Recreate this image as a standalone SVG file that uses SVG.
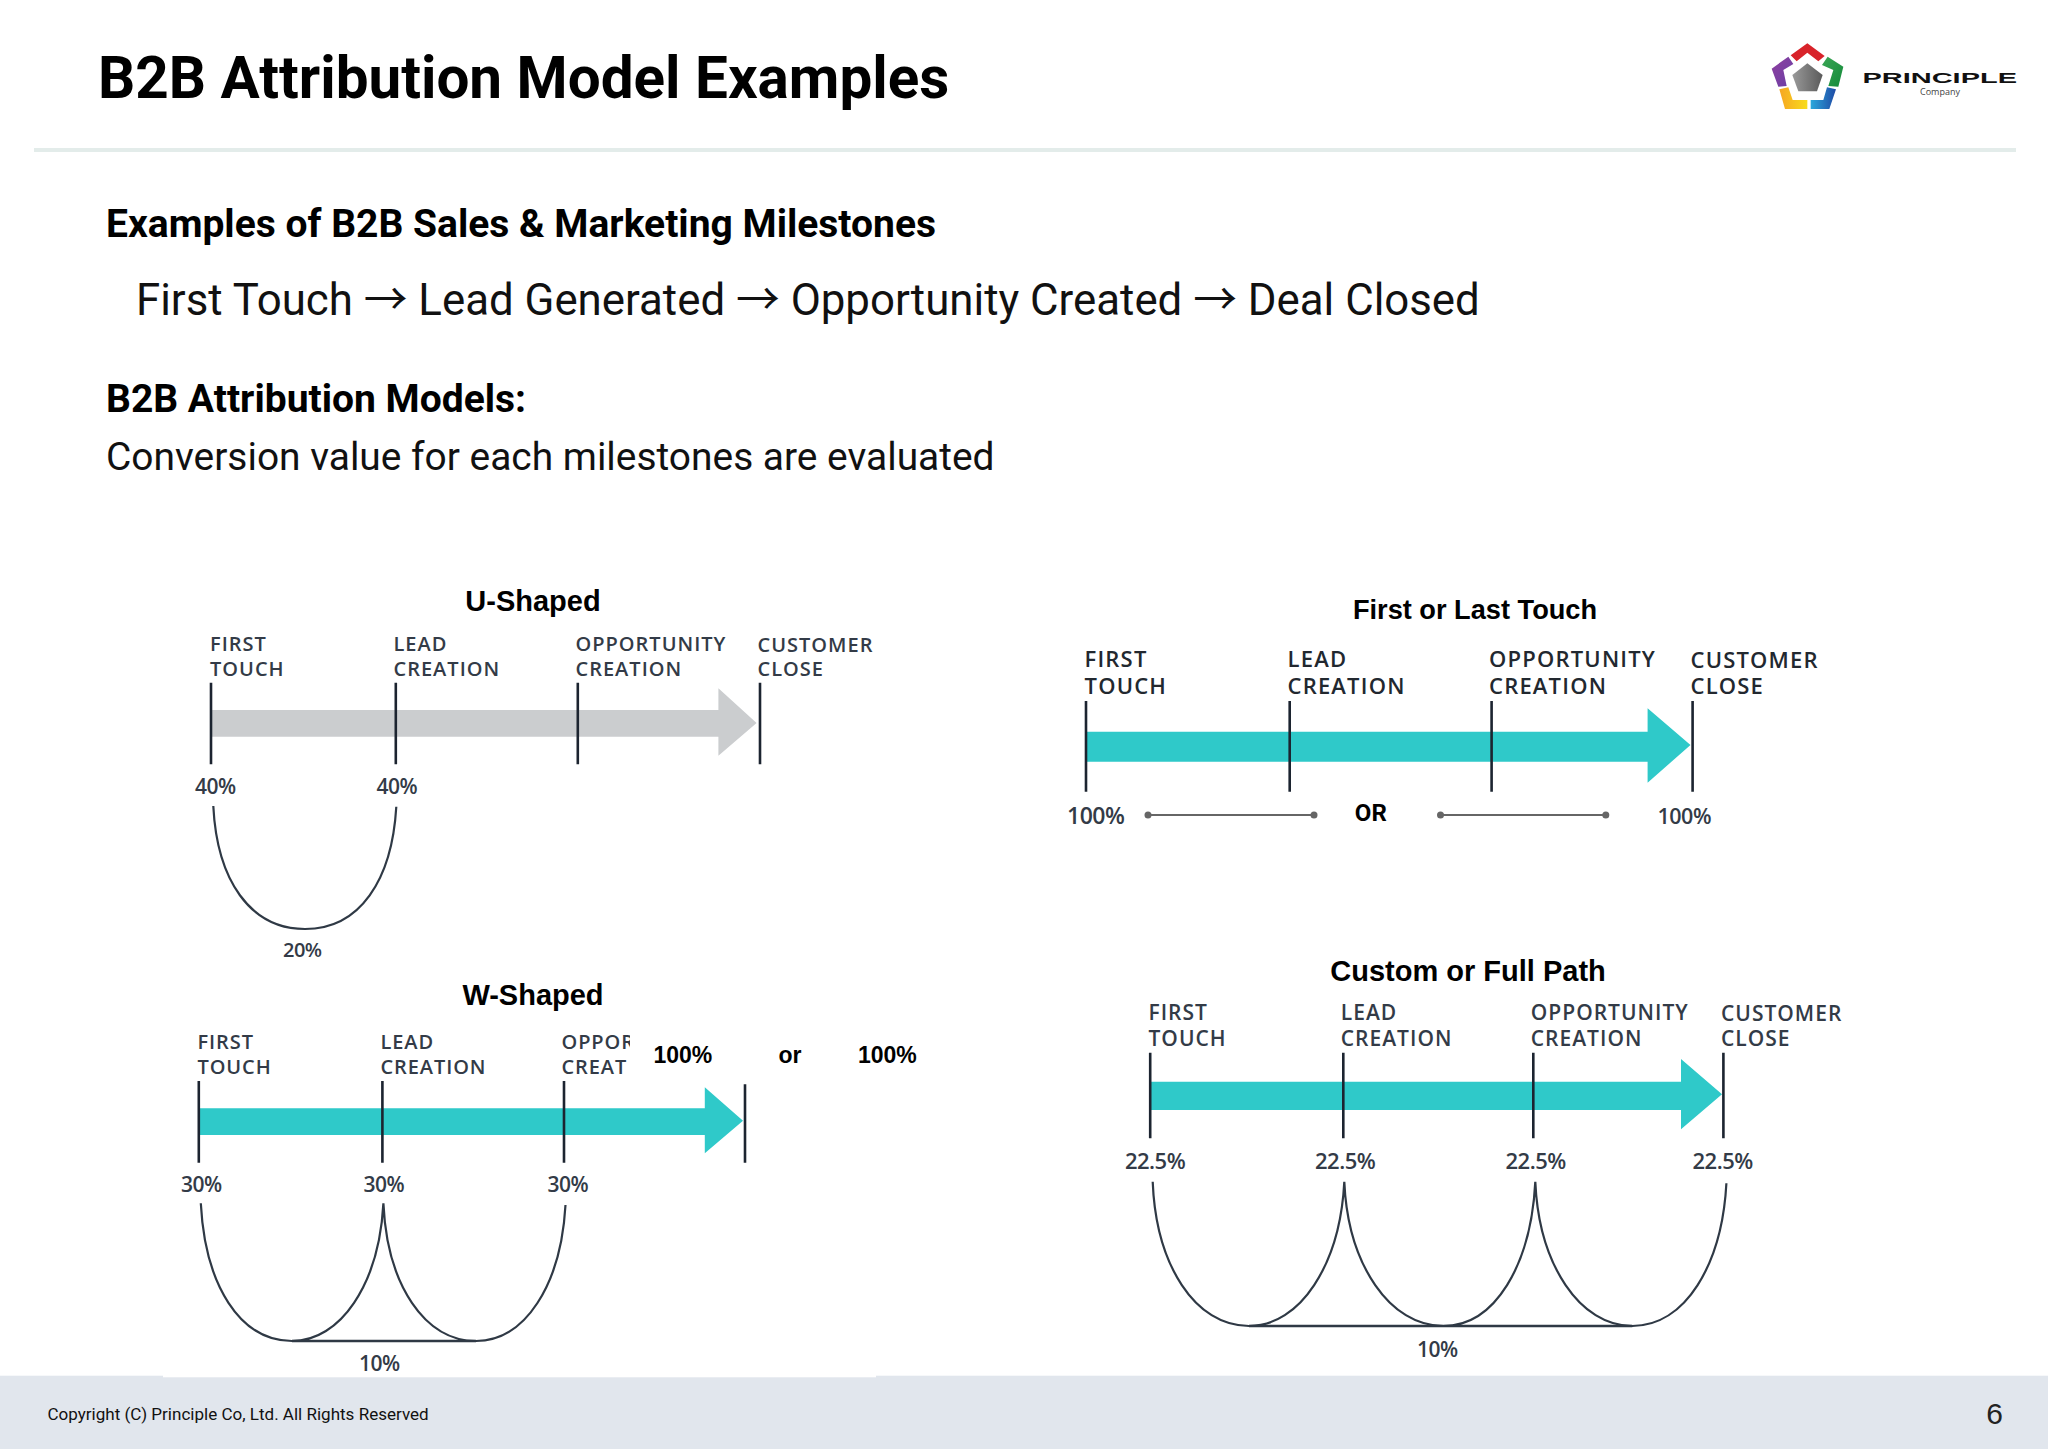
<svg xmlns="http://www.w3.org/2000/svg" width="2048" height="1449" viewBox="0 0 2048 1449">
<defs>
<style>
text{font-family:"Roboto","Liberation Sans",sans-serif}
.h1{font-size:58.4px;font-weight:700;fill:#000}
.h2{font-size:39px;font-weight:700;fill:#000}
.lead{font-size:43.8px;fill:#111}
.arr{font-family:"Noto Sans CJK JP",sans-serif}
.body{font-size:38.9px;fill:#111}
.t{font-family:"Liberation Sans",Arial,sans-serif;font-weight:700;font-size:29px;fill:#000;text-anchor:middle}
.b{font-family:"Liberation Sans",Arial,sans-serif;font-weight:700;font-size:23px;fill:#000}
.l{font-family:"Open Sans",sans-serif;font-weight:600;fill:#333b47}
.su{font-size:20px;letter-spacing:1px}
.sw{font-size:20px;letter-spacing:.9px}
.sf{font-size:22px;letter-spacing:1.2px;fill:#22282f}
.sc{font-size:21px;letter-spacing:1px}
.p{font-family:"Open Sans",sans-serif;font-weight:600;fill:#333b47;font-size:21px;letter-spacing:-.5px}
.tick{stroke:#1c2430;stroke-width:2.6;fill:none}
.curve{stroke:#2f3945;stroke-width:2.2;fill:none}
.base{stroke:#2f3945;stroke-width:2.6;fill:none}
.teal{fill:#2fc9c9}
.grey{fill:#cbcdcf}
.or{stroke:#666;stroke-width:2;fill:none}
.dot{fill:#666}
</style>
<linearGradient id="gy" x1="0" x2="1" y1="0" y2="0"><stop offset="0" stop-color="#f6a623"/><stop offset="1" stop-color="#f8dc1c"/></linearGradient>
<linearGradient id="gb" x1="0" x2="1" y1="0" y2="0"><stop offset="0" stop-color="#2aa8dc"/><stop offset="1" stop-color="#1f4aa5"/></linearGradient>
<linearGradient id="gg" x1="0" x2="1" y1="0" y2="1"><stop offset="0" stop-color="#3aa655"/><stop offset="1" stop-color="#148a3a"/></linearGradient>
<linearGradient id="gp" x1="0" x2="1" y1="0" y2="1"><stop offset="0" stop-color="#8e3f9f"/><stop offset="1" stop-color="#6a3fa5"/></linearGradient>
<linearGradient id="gc" x1="0" x2="1" y1="0" y2="0"><stop offset="0" stop-color="#9a9a9a"/><stop offset="1" stop-color="#5a5a5a"/></linearGradient>
<clipPath id="cut"><rect x="540" y="1020" width="90" height="70"/></clipPath>
</defs>
<rect width="2048" height="1449" fill="#fff"/>
<g id="header">
<text class="h1" x="98" y="98">B2B Attribution Model Examples</text>
<rect x="34" y="148" width="1982" height="4" fill="#e3ecea"/>
</g>
<g id="logo">
<g transform="translate(1700 20) scale(.33333)">
<polygon fill="#d8232a" points="322,70 374,108 355,124 322,98 290,124 272,106"/>
<polygon fill="url(#gg)" points="366,135 383,110 430,140 415,200 385,198 400,150"/>
<polygon fill="url(#gp)" points="215,146 265,110 280,132 250,150 260,198 235,200"/>
<polygon fill="url(#gy)" points="238,208 265,202 278,240 322,240 322,267 255,267"/>
<polygon fill="url(#gb)" points="332,240 370,240 381,202 408,208 388,267 332,267"/>
<polygon fill="url(#gc)" points="322,130 368,165 351,214 295,214 277,165"/>
</g>
<text x="1862.5" y="82.7" font-size="14" font-weight="700" textLength="154.5" lengthAdjust="spacingAndGlyphs" style="font-family:'Liberation Sans',sans-serif" fill="#111">PRINCIPLE</text>
<text x="1940" y="95" font-size="9" text-anchor="middle" style="font-family:'Open Sans',sans-serif" fill="#444">Company</text>
</g>
<g id="intro">
<text class="h2" x="106" y="237">Examples of B2B Sales &amp; Marketing Milestones</text>
<text class="lead" x="136" y="315">First Touch <tspan class="arr">→</tspan> Lead Generated <tspan class="arr">→</tspan> Opportunity Created <tspan class="arr">→</tspan> Deal Closed</text>
<text class="h2" x="106" y="412">B2B Attribution Models:</text>
<text class="body" x="106" y="470">Conversion value for each milestones are evaluated</text>
</g>
<g id="u-shaped">
<text class="t" x="533" y="611">U-Shaped</text>
<path class="grey" d="M211 710H718.4V688.3L756.6 723L718.4 755.7V736.7H211Z"/>
<path class="tick" d="M211 682.7V764.3M395.8 682.7V764.3M577.8 682.7V764.3M760 682.7V764.3"/>
<text class="l su" x="210" y="651">FIRST</text><text class="l su" x="210" y="675.7">TOUCH</text>
<text class="l su" x="393.5" y="651">LEAD</text><text class="l su" x="393.5" y="675.7">CREATION</text>
<text class="l su" x="575.5" y="650.7">OPPORTUNITY</text><text class="l su" x="575.5" y="675.7">CREATION</text>
<text class="l su" x="757.5" y="652.3">CUSTOMER</text><text class="l su" x="757.5" y="675.7">CLOSE</text>
<text class="p" x="195" y="794">40%</text><text class="p" x="376.5" y="794">40%</text><text class="p" x="283" y="956.7" style="font-size:20px">20%</text>
</g>
<g id="w-shaped">
<text class="t" x="533" y="1005">W-Shaped</text>
<path class="teal" d="M199 1108.3H704.8V1087.3L743 1120.7L704.8 1153.3V1135H199Z"/>
<path class="tick" d="M198.8 1081V1162.7M382.4 1081V1162.7M564 1081V1162.7M745 1084.3V1162.7"/>
<text class="l sw" x="197.5" y="1049.3">FIRST</text><text class="l sw" x="197.5" y="1074">TOUCH</text>
<text class="l sw" x="380.5" y="1049.3">LEAD</text><text class="l sw" x="380.5" y="1074">CREATION</text>
<text class="l sw" x="561.5" y="1049.3" clip-path="url(#cut)">OPPOR</text><text class="l sw" x="561.5" y="1074" clip-path="url(#cut)">CREAT</text>
<text class="p" x="181" y="1192">30%</text><text class="p" x="363.5" y="1192">30%</text><text class="p" x="547.5" y="1192">30%</text><text class="p" x="359" y="1370.5">10%</text>
<text class="b" x="653.5" y="1062.7">100%</text><text class="b" x="790" y="1062.7" text-anchor="middle">or</text><text class="b" x="858" y="1062.7">100%</text>
</g>
<g id="first-or-last-touch">
<text class="t" x="1475" y="619" style="font-size:27.2px">First or Last Touch</text>
<path class="teal" d="M1086 731.7H1647.6V708.3L1690.5 745L1647.6 782.7V761.7H1086Z"/>
<path class="tick" d="M1086 701V791.7M1289.7 701V791.7M1491.6 701V791.7M1692.6 701V791.7"/>
<text class="l sf" x="1084.5" y="667.3">FIRST</text><text class="l sf" x="1084.5" y="694">TOUCH</text>
<text class="l sf" x="1287.5" y="667.3">LEAD</text><text class="l sf" x="1287.5" y="694">CREATION</text>
<text class="l sf" x="1489" y="666.7">OPPORTUNITY</text><text class="l sf" x="1489" y="694">CREATION</text>
<text class="l sf" x="1690.5" y="668.3">CUSTOMER</text><text class="l sf" x="1690.5" y="694">CLOSE</text>
<text class="p" x="1067" y="824" style="font-size:23px">100%</text><text class="p" x="1657.5" y="824" style="font-size:21.5px">100%</text>
<text class="b" x="1370.8" y="820.5" text-anchor="middle" style="font-family:Roboto,sans-serif;font-size:24px">OR</text>
</g>
<g id="custom-or-full-path">
<text class="t" x="1468" y="981">Custom or Full Path</text>
<path class="teal" d="M1150 1081.7H1681V1059L1722 1094.3L1681 1129.3V1110H1150Z"/>
<path class="tick" d="M1150.2 1052.7V1138.3M1343.3 1052.7V1138.3M1533.3 1052.7V1138.3M1723.4 1052.7V1138.3"/>
<text class="l sc" x="1148.5" y="1020">FIRST</text><text class="l sc" x="1148.5" y="1045.7">TOUCH</text>
<text class="l sc" x="1340.8" y="1020">LEAD</text><text class="l sc" x="1340.8" y="1045.7">CREATION</text>
<text class="l sc" x="1530.8" y="1019.7">OPPORTUNITY</text><text class="l sc" x="1530.8" y="1045.7">CREATION</text>
<text class="l sc" x="1721" y="1021.3">CUSTOMER</text><text class="l sc" x="1721" y="1045.7">CLOSE</text>
<text class="p" x="1124.9" y="1168.5" style="font-size:22px">22.5%</text><text class="p" x="1315" y="1168.5" style="font-size:22px">22.5%</text><text class="p" x="1505.5" y="1168.5" style="font-size:22px">22.5%</text><text class="p" x="1692.5" y="1168.5" style="font-size:22px">22.5%</text>
<text class="p" x="1417" y="1356.5">10%</text>
</g>
<g id="connectors">
<path class="curve" d="M213.3 806C217 880 250 929 305 929C360 929 392 880 396.3 806.7"/>
<path class="curve" d="M200.8 1203.3C205 1285 240 1341 292 1341C340 1341 379 1285 383.4 1203.3C387 1285 425 1341 476 1341C525 1341 561 1285 565.5 1205"/>
<path class="base" d="M292 1341H476"/>
<path class="curve" d="M1152.7 1181.7C1156 1265 1195 1326 1249 1326C1300 1326 1340 1265 1344.3 1181.7C1348 1265 1390 1326 1443.3 1326C1495 1326 1531 1265 1535.3 1181.7C1539 1265 1580 1326 1632.3 1326C1685 1326 1722 1265 1726.4 1183.3"/>
<path class="base" d="M1249 1326H1632.3"/>
<path class="or" d="M1148 815H1314M1440.5 815H1605.8"/>
<circle class="dot" cx="1148" cy="815" r="3.5"/><circle class="dot" cx="1314" cy="815" r="3.5"/><circle class="dot" cx="1440.5" cy="815" r="3.5"/><circle class="dot" cx="1605.8" cy="815" r="3.5"/>
</g>
<g id="footer">
<rect y="1375.7" width="2048" height="73.3" fill="#e1e6ed"/>
<rect x="163" y="1375" width="713" height="2.3" fill="#fff"/>
<text x="47.5" y="1420" font-size="17.05" fill="#111">Copyright (C) Principle Co, Ltd. All Rights Reserved</text>
<text x="1994.5" y="1424" font-size="30" text-anchor="middle" style="font-family:'Liberation Sans',sans-serif" fill="#222">6</text>
</g>
</svg>
